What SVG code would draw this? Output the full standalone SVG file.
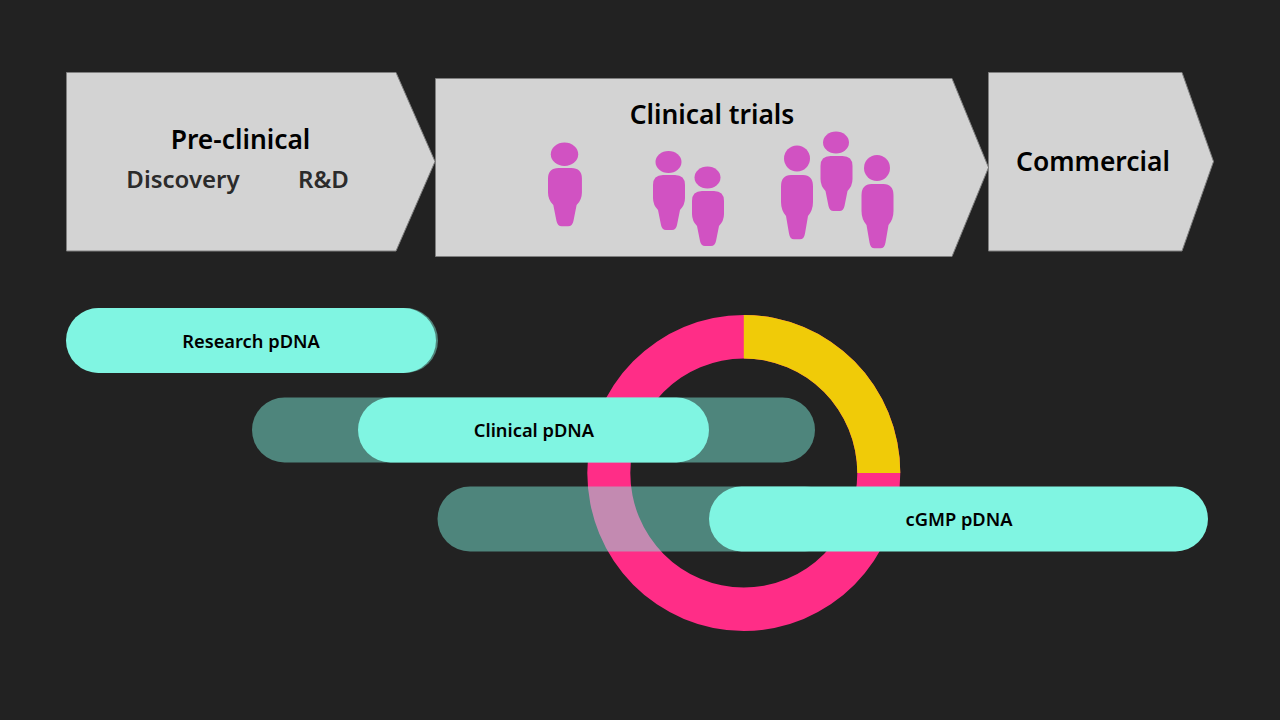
<svg xmlns="http://www.w3.org/2000/svg" width="1280" height="720" viewBox="0 0 1280 720">
<style>
.bg{fill:#222222}
.stage{fill:#d3d3d3;stroke:#7f7f7f;stroke-width:1}
.person{fill:#d152c2}
.bright{fill:#80f5e2}
.dim{fill:#80f5e2;fill-opacity:.47}
text{font-family:"Noto Sans","Open Sans",sans-serif;text-anchor:middle}
.h{font-size:26.400px;font-weight:600;fill:#000}
.s{font-size:24px;font-weight:600;fill:#2b2b2b}
.p{font-size:18.300px;font-weight:600;fill:#000}
</style>
<defs>
<path id="body" d="M10 0H22Q32 0 32 10V23Q32 30 27 35L24 50Q23 55 19 55H13Q9 55 8 50L5 35Q0 30 0 23V10Q0 0 10 0Z"/>
</defs>
<rect class="bg" width="1280" height="720"/>
<g id="node-ring">
<path fill-rule="evenodd" fill="#ff2d87" d="M587.300 473A156.500 158 0 1 0 900.300 473A156.500 158 0 1 0 587.300 473ZM630.300 473A113.500 114.500 0 1 1 857.300 473A113.500 114.500 0 1 1 630.300 473Z"/>
<path d="M743.800 315A156.500 158 0 0 1 900.300 473H857.300A113.500 114.500 0 0 0 743.800 358.500Z" fill="#f0cb08"/>
</g>
<g id="node-preclinical">
<polygon class="stage" points="66.500,72.500 396,72.500 435,161.500 396,251 66.500,251"/>
<text class="h" x="240.500" y="149">Pre-clinical</text>
<text class="s" x="183" y="187.500">Discovery</text>
<text class="s" x="323.500" y="188">R&amp;D</text>
</g>
<g id="node-clinical">
<polygon class="stage" points="435.500,78.500 952,78.500 988.500,167.500 952,256.500 435.500,256.500"/>
<text class="h" x="712" y="124">Clinical trials</text>
</g>
<g id="node-commercial">
<polygon class="stage" points="988.500,72.500 1182,72.500 1213.500,161.500 1182,251 988.500,251"/>
<text class="h" x="1093" y="171">Commercial</text>
</g>
<g id="node-people" class="person">
<ellipse cx="564.500" cy="154.300" rx="13.700" ry="11.700"/>
<use href="#body" transform="translate(548 168) scale(1.060 1.060)"/>
<ellipse cx="668.500" cy="162" rx="13" ry="11"/>
<use href="#body" transform="translate(653 175)"/>
<ellipse cx="707.500" cy="177.500" rx="13" ry="11"/>
<use href="#body" transform="translate(692 191)"/>
<circle cx="797" cy="158.500" r="13"/>
<use href="#body" transform="translate(781 175) scale(1 1.170)"/>
<ellipse cx="836" cy="142.500" rx="13" ry="11"/>
<use href="#body" transform="translate(820.500 156)"/>
<circle cx="877" cy="168" r="13"/>
<use href="#body" transform="translate(861.500 184) scale(1 1.170)"/>
</g>
<g id="node-research">
<rect x="68" y="308" width="370" height="65" rx="32.500" fill="#4f8379"/>
<rect class="bright" x="66" y="308" width="370" height="65" rx="32.500"/>
<text class="p" x="251" y="347.500">Research pDNA</text>
</g>
<g id="node-clinical-pdna">
<rect class="dim" x="252" y="397.500" width="563" height="65" rx="32.500"/>
<rect class="bright" x="358" y="397.500" width="351" height="65" rx="32.500"/>
<text class="p" x="534" y="436.500">Clinical pDNA</text>
</g>
<g id="node-cgmp">
<rect class="dim" x="437.500" y="486.500" width="400" height="65" rx="32.500"/>
<rect class="bright" x="709" y="486.500" width="499" height="65" rx="32.500"/>
<text class="p" x="959" y="525.500">cGMP pDNA</text>
</g>
</svg>
